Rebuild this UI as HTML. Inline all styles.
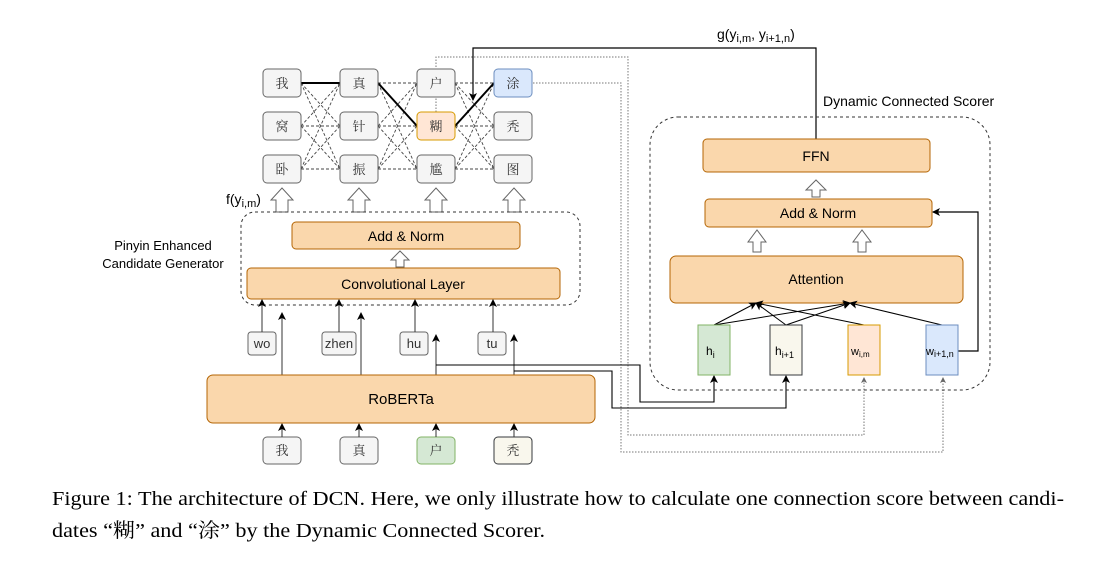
<!DOCTYPE html>
<html><head><meta charset="utf-8"><style>body{margin:0;background:#fff}svg{display:block}</style></head><body>
<svg width="1097" height="574" viewBox="0 0 1097 574" xmlns="http://www.w3.org/2000/svg" font-family="Liberation Sans, sans-serif">
<defs>
<marker id="a" markerWidth="8" markerHeight="8" refX="7" refY="4" orient="auto" markerUnits="userSpaceOnUse"><path d="M0,0 L8,4 L0,8 L2,4 z" fill="#000"/></marker>
<marker id="ag" markerWidth="6" markerHeight="6" refX="5" refY="3" orient="auto" markerUnits="userSpaceOnUse"><path d="M0,0 L6,3 L0,6 L1.5,3 z" fill="#666"/></marker>
<g id="ho"><path d="M-6,0 V-12 H-11 L0,-24 L11,-12 H6 V0 z" fill="#fff" stroke="#666" stroke-width="1"/></g>
</defs>
<!-- dashed lattice -->
<g stroke="#444" stroke-width="0.9" stroke-dasharray="3,2" fill="none">
<path d="M301,83 L340,126 M301,83 L340,169 M301,126 L340,83 M301,126 L340,126 M301,126 L340,169 M301,169 L340,83 M301,169 L340,126 M301,169 L340,169"/>
<path d="M378,83 L417,83 M378,83 L417,169 M378,126 L417,83 M378,126 L417,126 M378,126 L417,169 M378,169 L417,83 M378,169 L417,126 M378,169 L417,169"/>
<path d="M455,83 L494,83 M455,83 L494,126 M455,83 L494,169 M455,126 L494,126 M455,126 L494,169 M455,169 L494,83 M455,169 L494,126 M455,169 L494,169"/>
</g>
<g stroke="#000" stroke-width="2" fill="none"><path d="M301,83 L340,83 M378,83 L417,126 M455,126 L494,83"/></g>
<!-- grey dotted -->
<g stroke="#777" stroke-width="1" stroke-dasharray="1.5,1.5" fill="none">
<path d="M436,112 V57 H628 V435 H864 V378" marker-end="url(#ag)"/>
<path d="M533,83 H621 V452 H943 V378" marker-end="url(#ag)"/>
</g>
<!-- g line -->
<path d="M816,140 V48 H473 V100" stroke="#000" stroke-width="1.2" fill="none" marker-end="url(#a)"/>
<text x="717" y="39" font-size="14">g(y<tspan font-size="11" dy="3">i,m</tspan><tspan dy="-3">, y</tspan><tspan font-size="11" dy="3">i+1,n</tspan><tspan dy="-3">)</tspan></text>
<!-- char nodes -->
<g font-family="Noto Serif CJK SC, serif" font-size="13" text-anchor="middle" stroke-width="1">
<g fill="#f5f5f5" stroke="#666">
<rect x="263" y="69" width="38" height="28" rx="4"/><rect x="340" y="69" width="38" height="28" rx="4"/><rect x="417" y="69" width="38" height="28" rx="4"/>
<rect x="263" y="112" width="38" height="28" rx="4"/><rect x="340" y="112" width="38" height="28" rx="4"/><rect x="494" y="112" width="38" height="28" rx="4"/>
<rect x="263" y="155" width="38" height="28" rx="4"/><rect x="340" y="155" width="38" height="28" rx="4"/><rect x="417" y="155" width="38" height="28" rx="4"/><rect x="494" y="155" width="38" height="28" rx="4"/>
<rect x="263" y="437" width="38" height="27" rx="4"/><rect x="340" y="437" width="38" height="27" rx="4"/>
</g>
<rect x="417" y="112" width="38" height="28" rx="4" fill="#ffe6d5" stroke="#d79b00"/>
<rect x="494" y="69" width="38" height="28" rx="4" fill="#dae8fc" stroke="#6c8ebf"/>
<rect x="417" y="437" width="38" height="27" rx="4" fill="#d5e8d4" stroke="#82b366"/>
<rect x="494" y="437" width="38" height="27" rx="4" fill="#f9f7ed" stroke="#36393d"/>
<g fill="#333">
<text x="282" y="88">我</text><text x="359" y="88">真</text><text x="436" y="88">户</text><text x="513" y="88">涂</text>
<text x="282" y="131">窝</text><text x="359" y="131">针</text><text x="436" y="131">糊</text><text x="513" y="131">秃</text>
<text x="282" y="174">卧</text><text x="359" y="174">振</text><text x="436" y="174">尴</text><text x="513" y="174">图</text>
<text x="282" y="455">我</text><text x="359" y="455">真</text><text x="436" y="455">户</text><text x="513" y="455">秃</text>
</g></g>
<!-- hollow arrows -->
<use href="#ho" x="282" y="212"/><use href="#ho" x="359" y="212"/><use href="#ho" x="436" y="212"/><use href="#ho" x="514" y="212"/>
<text x="226" y="204" font-size="14">f(y<tspan font-size="11" dy="3">i,m</tspan><tspan dy="-3">)</tspan></text>
<!-- left generator -->
<rect x="241" y="212" width="339" height="93" rx="14" fill="none" stroke="#333" stroke-dasharray="3,3"/>
<text x="163" y="250" font-size="13" text-anchor="middle">Pinyin Enhanced</text>
<text x="163" y="268" font-size="13" text-anchor="middle">Candidate Generator</text>
<rect x="292" y="222" width="228" height="27" rx="4" fill="#fad7ac" stroke="#b46504"/>
<text x="406" y="241" font-size="14" text-anchor="middle">Add &amp; Norm</text>
<path d="M396,267 V260 H391 L400,251 L409,260 H404 V267 z" fill="#fff" stroke="#666"/>
<rect x="247" y="268" width="313" height="31" rx="4" fill="#fad7ac" stroke="#b46504"/>
<text x="403" y="289" font-size="14" text-anchor="middle">Convolutional Layer</text>
<!-- pinyin -->
<g fill="#f5f5f5" stroke="#666"><rect x="248" y="332" width="28" height="23" rx="3"/><rect x="322" y="332" width="34" height="23" rx="3"/><rect x="400" y="332" width="28" height="23" rx="3"/><rect x="478" y="332" width="28" height="23" rx="3"/></g>
<g font-size="13" text-anchor="middle" fill="#333"><text x="262" y="348">wo</text><text x="339" y="348">zhen</text><text x="414" y="348">hu</text><text x="492" y="348">tu</text></g>
<g stroke="#333" stroke-width="1" fill="none" marker-end="url(#a)">
<path d="M262,332 V300"/><path d="M339,332 V300"/><path d="M415,332 V300"/><path d="M493,332 V300"/>
<path d="M282,375 V313"/><path d="M361,375 V313"/><path d="M436,375 V335"/><path d="M514,375 V335"/>
<path d="M282,437 V424"/><path d="M359,437 V424"/><path d="M436,437 V424"/><path d="M514,437 V424"/>
</g>
<rect x="207" y="375" width="388" height="48" rx="6" fill="#fad7ac" stroke="#b46504"/>
<text x="401" y="404" font-size="15" text-anchor="middle">RoBERTa</text>
<!-- connections to h -->
<g stroke="#000" stroke-width="1.1" fill="none" marker-end="url(#a)">
<path d="M436,365 H640 V402 H714 V376"/>
<path d="M514,371 H612 V408 H786 V376"/>
</g>
<!-- right scorer -->
<rect x="650" y="117" width="340" height="273" rx="28" fill="none" stroke="#333" stroke-dasharray="3,3"/>
<text x="823" y="106" font-size="14">Dynamic Connected Scorer</text>
<rect x="703" y="139" width="227" height="33" rx="4" fill="#fad7ac" stroke="#b46504"/>
<text x="816" y="161" font-size="14" text-anchor="middle">FFN</text>
<path d="M812,197 V190 H806 L816,180 L826,190 H820 V197 z" fill="#fff" stroke="#666"/>
<rect x="705" y="199" width="227" height="28" rx="4" fill="#fad7ac" stroke="#b46504"/>
<text x="818" y="218" font-size="14" text-anchor="middle">Add &amp; Norm</text>
<path d="M753,252 V242 H748 L757,230 L766,242 H761 V252 z" fill="#fff" stroke="#666"/>
<path d="M858,252 V242 H853 L862,230 L871,242 H866 V252 z" fill="#fff" stroke="#666"/>
<rect x="670" y="256" width="293" height="47" rx="6" fill="#fad7ac" stroke="#b46504"/>
<text x="816" y="284" font-size="14" text-anchor="middle">Attention</text>
<g stroke="#000" stroke-width="1" fill="none" marker-end="url(#a)">
<path d="M714,325 L756,303"/><path d="M714,325 L850,303"/><path d="M786,325 L756,303"/><path d="M786,325 L850,303"/>
<path d="M864,325 L756,303"/><path d="M942,325 L850,303"/>
<path d="M958,351 H978 V212 H933" stroke-width="1.2"/>
</g>
<rect x="698" y="325" width="32" height="50" fill="#d5e8d4" stroke="#82b366"/>
<rect x="770" y="325" width="32" height="50" fill="#f9f7ed" stroke="#36393d"/>
<rect x="848" y="325" width="32" height="50" fill="#ffe6d5" stroke="#d79b00"/>
<rect x="926" y="325" width="32" height="50" fill="#dae8fc" stroke="#6c8ebf"/>
<g font-size="12" fill="#000">
<text x="706" y="355">h<tspan font-size="9" dy="3">i</tspan></text>
<text x="775" y="355">h<tspan font-size="9" dy="3">i+1</tspan></text>
<text x="851" y="355" font-size="11">w<tspan font-size="8" dy="2">i,m</tspan></text>
<text x="926" y="355" font-size="11">w<tspan font-size="9" dy="2">i+1,n</tspan></text>
</g>
<!-- caption -->
<g font-family="Liberation Serif, Noto Serif CJK SC, serif" font-size="20" fill="#000">
<text x="52" y="505" textLength="1012" lengthAdjust="spacingAndGlyphs">Figure 1: The architecture of DCN. Here, we only illustrate how to calculate one connection score between candi-</text>
<text x="52" y="537" textLength="493" lengthAdjust="spacingAndGlyphs">dates “糊” and “涂” by the Dynamic Connected Scorer.</text>
</g>
</svg>
</body></html>
